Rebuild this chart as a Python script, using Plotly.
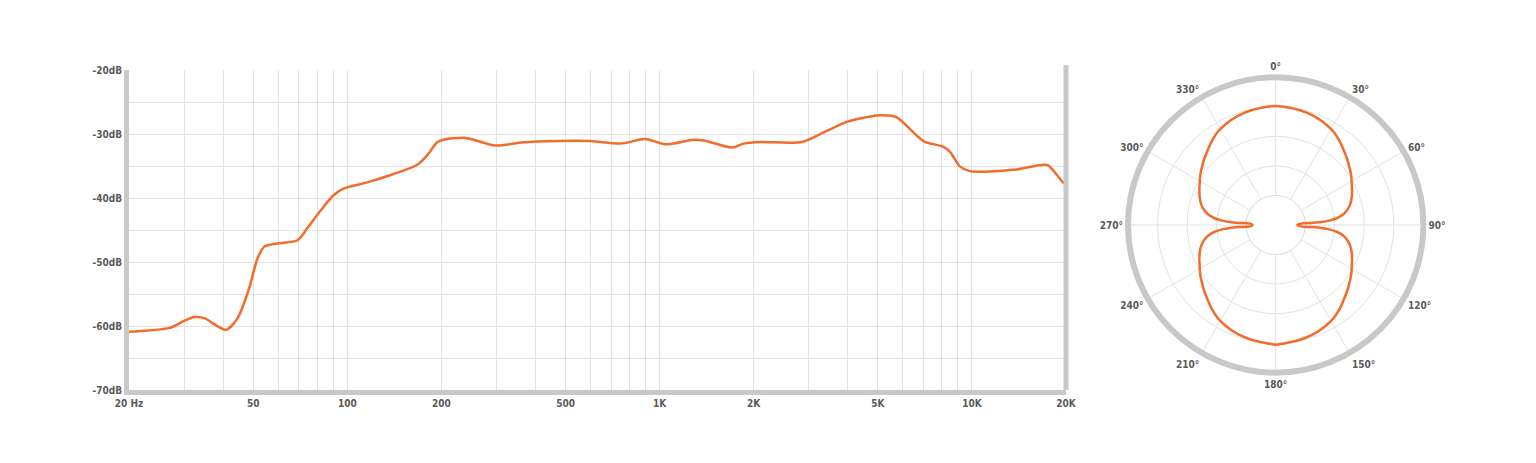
import numpy as np
import plotly.graph_objects as go

# frequency response (Hz -> dB)
freq = [20, 23, 27, 30, 32.4, 35, 38, 40.9, 44.5, 48.5, 51.6, 54.2, 59.8, 69.2,
        74.5, 82, 90.7, 97.6, 115, 137.7, 167.5, 180.4, 194, 203, 236, 254, 298,
        366, 470, 600, 748, 900, 1043, 1285, 1384, 1705, 1858, 2100, 2854, 3400,
        3975, 4958, 5340, 5750, 6990, 8100, 8510, 9160, 9860, 13560, 16910, 17550,
        19600, 20000]
level_db = [-60.9, -60.7, -60.3, -59.2, -58.6, -58.8, -59.9, -60.6, -58.8, -54.1,
            -49.4, -47.6, -47.1, -46.6, -44.7, -42.0, -39.5, -38.5, -37.6, -36.4,
            -34.8, -33.3, -31.3, -30.9, -30.6, -30.9, -31.8, -31.3, -31.1, -31.1,
            -31.5, -30.8, -31.6, -30.9, -31.0, -32.1, -31.5, -31.25, -31.25, -29.6,
            -28.1, -27.1, -27.1, -27.4, -31.1, -32.0, -32.8, -35.1, -35.8, -35.6,
            -34.8, -34.9, -37.6, -37.9]

freq_ticks = [20, 50, 100, 200, 500, 1000, 2000, 5000, 10000, 20000]
freq_labels = ["20 Hz", "50", "100", "200", "500", "1K", "2K", "5K", "10K", "20K"]
freq_minor = [30, 40, 60, 70, 80, 90, 300, 400, 600, 700, 800, 900,
              3000, 4000, 6000, 7000, 8000, 9000]
db_ticks = [-70, -60, -50, -40, -30, -20]
db_labels = ["-70dB", "-60dB", "-50dB", "-40dB", "-30dB", "-20dB"]

# polar pattern (angle in degrees -> radius in grid rings)
polar_theta = [
    0, 7, 12, 18, 23, 27, 32, 37, 42, 47, 52, 57, 61, 66, 71.5, 75, 78, 81,
    83.7, 85.5, 86.5, 86.8, 86.5, 88, 90,
    92, 93.5, 93.2, 93.5, 94.5, 96.3, 99, 102, 105, 108.5, 114, 119, 123, 128,
    133, 138, 143, 148, 153, 157, 162, 168, 173, 180,
    187, 192, 198, 203, 207, 212, 217, 222, 227, 232, 237, 241, 246, 251.5,
    255, 258, 261, 263.7, 265.5, 266.5, 266.8, 266.5, 268, 270,
    272, 273.5, 273.2, 273.5, 274.5, 276.3, 279, 282, 285, 288.5, 294, 299,
    303, 308, 313, 318, 323, 328, 333, 337, 342, 348, 353, 360]
polar_r = [
    4.03, 4.0, 3.97, 3.92, 3.86, 3.80, 3.71, 3.58, 3.43, 3.30, 3.17, 3.05, 2.94,
    2.83, 2.70, 2.60, 2.48, 2.32, 2.08, 1.78, 1.50, 1.2, 0.94, 0.78, 0.73,
    0.78, 0.94, 1.2, 1.50, 1.78, 2.08, 2.32, 2.48, 2.60, 2.70, 2.83, 2.94, 3.05,
    3.17, 3.30, 3.43, 3.58, 3.71, 3.80, 3.86, 3.92, 3.97, 4.0, 4.05,
    4.0, 3.97, 3.92, 3.86, 3.80, 3.71, 3.58, 3.43, 3.30, 3.17, 3.05, 2.94, 2.83,
    2.70, 2.60, 2.48, 2.32, 2.08, 1.78, 1.50, 1.2, 0.96, 0.82, 0.78,
    0.82, 0.96, 1.2, 1.50, 1.78, 2.08, 2.32, 2.48, 2.60, 2.70, 2.83, 2.94, 3.05,
    3.17, 3.30, 3.43, 3.58, 3.71, 3.80, 3.86, 3.92, 3.97, 4.0, 4.03]
angle_ticks = list(range(0, 360, 30))
angle_labels = [f"{a}°" for a in angle_ticks]

ORANGE = "#f26c2b"
GRID = "#e2e2e2"
FRAME = "#c8c8c8"
TEXT = "#5a5a5a"
FONT = "DejaVu Sans Condensed, Liberation Sans Narrow, DejaVu Sans, sans-serif"
HOLE = 1

# page sits 8px in from the window corner (default body margin)
W, H, OFF = 1536, 463, 8


def px_x(p):
    return (p - OFF) / W


def px_y(p):
    return (H + OFF - p) / H


fig = go.Figure()

fig.add_trace(go.Scatter(
    x=freq, y=level_db, mode="lines",
    line=dict(color=ORANGE, width=2.5, shape="spline", smoothing=0.8),
    hoverinfo="skip", showlegend=False,
))

# white centre disc so the spokes stop at the first ring
disc_theta = np.linspace(0, 360, 73)
fig.add_trace(go.Scatterpolar(
    r=[HOLE] * len(disc_theta), theta=disc_theta, mode="lines",
    fill="toself", fillcolor="white", line=dict(color="#dcdcdc", width=1),
    hoverinfo="skip", showlegend=False, subplot="polar",
))
fig.add_trace(go.Scatterpolar(
    r=polar_r, theta=polar_theta, mode="lines",
    line=dict(color=ORANGE, width=2.5, shape="spline", smoothing=0.8),
    hoverinfo="skip", showlegend=False, subplot="polar",
))

tickfont = dict(family=FONT, size=10, color=TEXT, weight="bold")

cx, cy, rad = 1275.7, 225, 147.7

fig.update_layout(
    width=W, height=H,
    autosize=False,
    showlegend=False,
    margin=dict(l=0, r=0, t=0, b=0, pad=0, autoexpand=False),
    paper_bgcolor="white", plot_bgcolor="white",
    font=dict(family=FONT, color=TEXT),
    xaxis=dict(
        domain=[px_x(129), px_x(1066)],
        type="log", range=[np.log10(20), np.log10(20000)],
        tickvals=freq_ticks, ticktext=freq_labels, tickfont=tickfont,
        showgrid=True, gridcolor=GRID, gridwidth=1,
        minor=dict(tickvals=freq_minor, showgrid=True, gridcolor=GRID, gridwidth=1),
        showline=True, linewidth=5, linecolor=FRAME, ticks="", zeroline=False,
        automargin=False, fixedrange=True,
    ),
    yaxis=dict(
        domain=[px_y(390), px_y(70)],
        range=[-70, -20],
        tickvals=db_ticks, ticktext=db_labels, tickfont=tickfont,
        showgrid=True, gridcolor=GRID, gridwidth=1,
        minor=dict(dtick=5, tick0=-70, showgrid=True, gridcolor=GRID, gridwidth=1),
        showline=True, linewidth=5, linecolor=FRAME, ticks="", zeroline=False,
        automargin=False, fixedrange=True,
    ),
    polar=dict(
        domain=dict(x=[px_x(cx - rad), px_x(cx + rad)],
                    y=[px_y(cy + rad), px_y(cy - rad)]),
        bgcolor="white",
        radialaxis=dict(range=[0, 5], tickvals=[1, 2, 3, 4], showticklabels=False,
                        showline=False, ticks="", gridcolor=GRID, gridwidth=1),
        angularaxis=dict(rotation=90, direction="clockwise",
                         tickvals=angle_ticks, ticktext=angle_labels,
                         tickfont=tickfont, ticks="",
                         showline=True, linewidth=6, linecolor=FRAME,
                         gridcolor=GRID, gridwidth=1),
    ),
    shapes=[dict(type="line", xref="x domain", yref="y domain",
                 x0=1, x1=1, y0=0, y1=1.015,
                 line=dict(color=FRAME, width=5))],
)

fig.write_html("out.html")
